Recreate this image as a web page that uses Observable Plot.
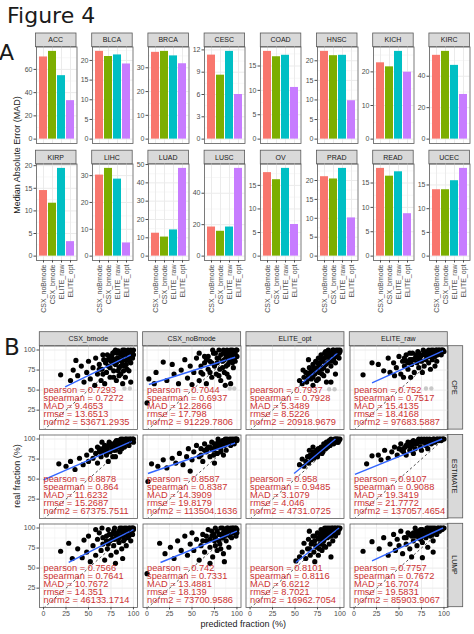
<!DOCTYPE html>
<html><head><meta charset="utf-8">
<script src="https://cdn.jsdelivr.net/npm/d3@7"></script>
<script src="https://cdn.jsdelivr.net/npm/@observablehq/plot@0.6"></script>
<style>
html,body{margin:0;padding:0;background:#fff;}
#fig{position:relative;width:474px;height:634px;overflow:hidden;background:#fff;}
.cell{position:absolute;}
.cell svg{display:block;overflow:visible;}
</style></head><body><div id="fig"></div>
<script>
const FONT = "'Liberation Sans', Arial, Helvetica, sans-serif";
const TITLEFONT = "'DejaVu Sans', sans-serif";

// ---------- Panel A data ----------
const cancers = ["ACC","BLCA","BRCA","CESC","COAD","HNSC","KICH","KIRC","KIRP","LIHC","LUAD","LUSC","OV","PRAD","READ","UCEC"];
const methodsA = ["CSX_noBmode","CSX_bmode","ELITE_raw","ELITE_opt"];
const colorsA = ["#F8766D","#7CAE00","#00BFC4","#C77CFF"];
const madNoBmode = [70.7,22.3,36.5,11.3,18.0,22.4,22.7,53.3,14.5,30.2,12.5,18.5,17.7,21.0,18.0,14.0];
const madBmode   = [75.5,21.0,36.9,8.6,16.9,21.3,21.5,55.8,11.7,32.7,10.4,15.8,16.2,20.4,16.4,14.0];
const madRaw     = [54.6,21.4,35.0,11.8,17.2,21.4,26.1,46.9,19.4,28.7,14.3,18.5,18.6,23.2,17.3,15.9];
const madOpt     = [33.1,19.1,31.7,6.0,10.6,9.8,19.9,28.4,3.2,4.9,47.9,55.8,6.7,10.1,8.7,18.5];
const yTicksA = [[0,20,40,60],[0,5,10,15,20],[0,10,20,30],[0,3,6,9,12],[0,5,10,15],[0,5,10,15,20],[0,10,20],[0,20,40],
                 [0,5,10,15,20],[0,10,20,30],[0,10,20,30,40,50],[0,20,40],[0,5,10,15],[0,5,10,15,20],[0,5,10,15],[0,5,10,15]];

// ---------- Panel B data ----------
const methodsB = ["CSX_bmode","CSX_noBmode","ELITE_opt","ELITE_raw"];
const datasetsB = ["CPE","ESTIMATE","LUMP"];
const xTicksB = [0,25,50,75,100];
const yTicksB = [25,50,75,100];
const pearsonB  = [[0.7293,0.7044,0.7937,0.752],[0.8878,0.8587,0.958,0.9107],[0.7566,0.742,0.8101,0.7757]];
const spearmanB = [[0.7272,0.6937,0.7928,0.7517],[0.864,0.8387,0.9485,0.9088],[0.7641,0.7331,0.8116,0.7672]];
const madB      = [[9.4653,12.2866,5.3489,15.4135],[11.6232,14.3909,3.1079,19.3419],[10.7672,13.4881,6.6212,16.7074]];
const rmseB     = [[13.6513,17.798,8.5226,18.4168],[15.2687,19.8179,4.046,21.7772],[14.351,18.139,8.7021,19.5831]];
const norm2B    = [[53671.2935,91229.7806,20918.9679,97683.5887],[67375.7511,113504.1636,4731.0725,137057.4654],[46133.1714,73700.9586,16962.7054,85903.9067]];
const annotX = 0;
const annotY = [50,40,30,20,10];

// fitted lm line end points [x1,y1,x2,y2]
const fitCPE      = [[24,54,97,94],[2,57,98,91],[58,59,97,96],[20,59,99,99]];
const fitESTIMATE = [[0,49,98,97],[1,57,98,95],[49,57,95,100],[1,56,98,100]];
const fitLUMP     = [[28,57,100,98],[15,57,100,96],[51,57,99,100],[20,59,99,100]];

// scatter points (predicted, real): sparse part and dense core
const cpeBmode = [[19,69],[30,62],[33,75],[36,87],[38,68],[42,80],[45,60],[48,72],[50,86],[52,64],[55,78],[57,56],[58,90],[60,70],[62,82],[64,62],[65,76],[67,88],[68,58],[70,72],[71,94],[72,80],[74,66],[75,86],[76,92],[78,74],[79,98],[80,82],[81,62],[82,90],[84,78],[85,96],[86,70],[87,86],[88,100],[89,92],[90,80],[91,66],[92,96],[93,88],[94,100],[95,74],[96,92],[97,84],[98,98],[99,90],[100,100],[97,60],[88,58],[83,99],[77,84],[73,92],[66,94]];
const cpeBmodeCore = [[62,76],[66,70],[69,84],[72,88],[74,78],[77,96],[79,88],[81,84],[83,74],[85,88],[86,94],[88,82],[90,96],[91,88],[92,82],[94,92],[95,96],[96,86],[97,100],[98,92],[99,96],[100,94],[93,76],[89,74],[84,68],[78,66],[80,100],[90,100],[86,80],[82,96]];
const cpeNoBmode = [[0,34],[2,64],[8,58],[10,72],[18,85],[22,62],[28,82],[30,70],[35,58],[38,75],[42,88],[45,65],[48,80],[50,57],[52,72],[55,90],[58,62],[60,80],[62,70],[64,92],[66,58],[68,76],[70,86],[72,66],[74,96],[75,80],[77,70],[78,90],[80,100],[81,76],[82,62],[84,86],[85,96],[86,72],[88,92],[89,100],[90,82],[91,66],[92,94],[94,88],[95,100],[96,78],[97,94],[98,86],[99,100],[100,92],[93,58],[87,56],[73,100],[66,88],[58,96]];
const cpeNoBmodeCore = [[60,72],[64,84],[68,92],[70,72],[72,84],[76,96],[78,84],[80,90],[82,94],[84,78],[86,88],[87,96],[88,80],[90,90],[91,96],[92,86],[93,100],[94,94],[96,98],[97,88],[98,96],[100,100],[85,100],[89,70],[80,68],[95,84]];
const cpeOpt = [[55,62],[58,58],[59,75],[60,66],[62,72],[63,60],[65,68],[66,78],[68,64],[69,74],[70,82],[72,70],[73,86],[74,62],[75,78],[76,90],[77,72],[78,84],[79,94],[80,76],[81,88],[82,68],[83,96],[84,82],[85,92],[86,74],[87,100],[88,86],[89,96],[90,80],[91,92],[92,100],[93,88],[94,98],[95,84],[96,100],[97,92],[98,98],[99,90],[100,100],[90,60],[85,60],[70,56],[65,88],[95,70]];
const cpeOptCore = [[64,64],[67,72],[70,66],[71,78],[73,74],[75,84],[77,80],[78,90],[80,86],[82,78],[83,90],[84,98],[86,84],[87,92],[88,94],[89,88],[90,96],[91,86],[92,94],[93,100],[94,92],[96,96],[97,98],[98,100],[99,96],[100,98],[80,70],[76,64]];
const cpeRaw = [[10,69],[20,84],[27,82],[33,74],[38,90],[40,72],[44,84],[47,78],[50,92],[52,70],[54,86],[56,80],[58,94],[60,76],[62,88],[64,82],[65,96],[67,72],[68,90],[70,84],[71,98],[72,78],[74,92],[75,86],[77,100],[78,80],[79,94],[80,88],[82,98],[83,84],[84,92],[86,100],[87,88],[88,96],[90,92],[91,100],[92,86],[94,96],[95,100],[97,94],[98,100],[100,98],[85,76],[76,72],[63,66],[90,80],[55,66],[45,68]];
const cpeRawCore = [[56,90],[60,84],[62,96],[66,88],[69,94],[72,96],[73,88],[76,94],[78,98],[80,96],[81,92],[83,100],[85,96],[86,92],[88,100],[89,94],[91,96],[92,100],[93,94],[94,100],[96,98],[97,100],[99,100],[70,90],[64,88],[58,86]];
const estBmode = [[17,69],[25,66],[30,72],[35,62],[40,76],[44,68],[48,80],[50,72],[53,86],[55,76],[58,82],[60,70],[62,88],[64,78],[66,84],[68,92],[70,80],[71,88],[73,96],[74,84],[76,90],[77,78],[78,94],[80,86],[81,98],[82,90],[84,94],[85,84],[86,100],[87,92],[88,96],[90,90],[91,100],[92,95],[94,98],[95,92],[96,100],[98,97],[100,100],[72,72],[80,78],[60,90],[65,96]];
const estBmodeCore = [[66,88],[69,86],[72,92],[75,94],[77,88],[79,92],[80,96],[82,94],[83,98],[84,90],[85,96],[86,92],[88,100],[89,94],[90,98],[92,100],[93,96],[94,100],[95,96],[97,100],[98,98],[99,100],[100,96],[87,88],[78,86],[70,84],[62,84]];
const estNoBmode = [[1,47],[5,69],[12,66],[18,74],[22,64],[28,76],[32,70],[36,82],[40,68],[44,78],[46,88],[50,74],[52,84],[55,92],[58,78],[60,88],[62,72],[64,94],[66,84],[68,90],[70,78],[72,96],[74,86],[76,92],[78,82],[79,100],[80,94],[82,88],[84,98],[86,92],[87,100],[88,86],[90,96],[92,100],[93,92],[95,98],[97,94],[98,100],[100,98],[75,70],[85,80],[48,60]];
const estNoBmodeCore = [[60,80],[64,86],[67,88],[70,90],[72,88],[75,94],[77,90],[79,96],[81,92],[83,96],[85,96],[86,98],[88,94],[89,100],[91,98],[92,96],[94,100],[96,100],[97,98],[99,100],[100,100],[82,84],[74,80]];
const estOpt = [[55,68],[58,75],[60,66],[62,72],[64,78],[65,70],[67,80],[68,74],[70,84],[71,76],[72,80],[74,86],[75,78],[76,88],[78,84],[79,90],[80,82],[81,88],[82,94],[84,88],[85,96],[86,90],[87,94],[88,98],[89,92],[90,100],[91,96],[92,98],[93,94],[94,100],[95,98],[96,100],[97,96],[98,100],[100,100],[70,90],[66,86]];
const estOptCore = [[69,78],[73,82],[77,86],[80,88],[83,92],[85,90],[86,94],[88,94],[89,96],[90,94],[91,98],[92,96],[93,98],[95,100],[97,100],[99,98],[98,96],[84,92],[81,84],[76,82]];
const estRaw = [[14,69],[20,79],[27,80],[34,86],[38,76],[42,84],[45,90],[48,80],[50,88],[52,94],[55,84],[57,90],[60,96],[62,86],[64,92],[66,98],[68,88],[70,94],[72,100],[74,90],[76,96],[78,100],[80,92],[82,98],[84,100],[86,94],[88,100],[90,96],[92,100],[94,98],[96,100],[98,100],[100,100],[58,80],[66,82],[75,86],[30,74],[82,88]];
const estRawCore = [[55,88],[58,92],[61,92],[64,96],[67,94],[69,96],[71,98],[73,96],[75,100],[77,98],[79,96],[81,100],[83,96],[85,98],[87,98],[89,100],[91,98],[93,100],[95,100],[97,98],[99,100],[63,90],[53,86]];
const lumpBmode = [[19,71],[28,81],[32,62],[38,74],[43,63],[45,85],[48,70],[50,90],[52,58],[55,78],[58,66],[60,86],[62,94],[64,72],[66,80],[68,60],[70,90],[71,74],[72,98],[74,84],[75,66],[76,92],[78,78],[79,100],[80,86],[81,70],[82,94],[84,82],[85,100],[86,90],[87,74],[88,96],[89,84],[90,100],[91,92],[92,78],[93,98],[94,88],[95,100],[96,94],[97,84],[98,100],[99,92],[100,98],[88,62],[80,56],[65,100],[58,98]];
const lumpBmodeCore = [[66,88],[70,84],[73,92],[76,86],[78,96],[80,92],[82,88],[84,96],[86,96],[87,100],[88,90],[89,92],[90,86],[91,96],[92,100],[93,92],[94,96],[95,90],[96,100],[97,96],[98,94],[99,100],[100,100],[84,88],[78,86],[72,80]];
const lumpNoBmode = [[0,43],[14,81],[20,68],[26,76],[30,62],[34,84],[38,72],[42,90],[45,66],[48,80],[50,94],[52,72],[55,86],[58,60],[60,78],[62,92],[64,70],[66,84],[68,98],[70,76],[72,90],[73,64],[75,84],[76,100],[78,72],[80,92],[81,80],[82,100],[84,88],[85,68],[86,96],[88,84],[89,100],[90,92],[91,76],[92,98],[94,88],[95,100],[96,94],[98,100],[99,90],[100,98],[70,56],[86,58]];
const lumpNoBmodeCore = [[62,84],[66,90],[70,86],[72,96],[74,92],[76,88],[78,96],[80,84],[82,92],[84,100],[85,94],[86,90],[88,96],[90,100],[91,94],[92,90],[93,100],[94,96],[96,100],[97,96],[99,100],[100,94],[82,74],[76,78]];
const lumpOpt = [[51,59],[55,64],[58,70],[60,81],[62,62],[64,74],[65,86],[67,66],[68,80],[70,90],[71,70],[72,84],[74,76],[75,94],[76,66],[77,86],[78,80],[79,98],[80,72],[81,90],[82,84],[83,100],[84,76],[85,94],[86,88],[87,100],[88,80],[89,96],[90,64],[90,90],[91,100],[92,84],[93,96],[94,100],[95,90],[96,98],[97,100],[98,94],[100,100],[66,96],[72,58]];
const lumpOptCore = [[66,74],[69,82],[72,90],[73,78],[76,88],[78,92],[80,86],[81,96],[82,92],[84,88],[85,100],[86,96],[87,92],[88,90],[89,100],[90,96],[91,94],[92,100],[93,92],[94,96],[95,100],[96,94],[97,96],[98,100],[99,98],[82,78],[77,74]];
const lumpRaw = [[10,71],[20,83],[28,74],[33,88],[38,66],[40,80],[44,92],[46,72],[48,86],[50,78],[52,96],[54,68],[56,88],[58,80],[60,94],[62,74],[64,90],[66,84],[68,100],[70,78],[71,92],[72,88],[74,98],[76,82],[76,63],[78,94],[80,88],[81,100],[82,76],[84,96],[85,90],[86,100],[88,84],[89,96],[90,100],[92,92],[93,100],[95,96],[96,100],[98,98],[100,100],[88,70],[64,64]];
const lumpRawCore = [[58,88],[62,92],[66,94],[69,96],[72,96],[74,92],[76,98],[78,90],[80,96],[82,100],[83,92],[84,100],[86,96],[87,92],[88,100],[90,96],[91,98],[93,96],[94,100],[96,98],[97,100],[99,100],[74,86],[68,90]];
const grayCPE = [[[90,52],[96,52]],[[92,52],[97,52]],[[88,51],[94,51]],[[80,52],[86,52]]];

// ---------- layout ----------
const fig = d3.select("#fig");
const ov = fig.append("svg").attr("width",474).attr("height",634)
  .style("position","absolute").style("left","0px").style("top","0px");

function txt(x,y,s,size,opts={}) {
  const t = ov.append("text").attr("x",x).attr("y",y).text(s)
    .attr("font-size",size).attr("font-family",opts.family||FONT).attr("fill",opts.fill||"#1A1A1A");
  if (opts.anchor) t.attr("text-anchor",opts.anchor);
  if (opts.transform) t.attr("transform",opts.transform).attr("x",0).attr("y",0);
  return t;
}
function strip(x,y,w,h,label,vertical){
  ov.append("rect").attr("x",x).attr("y",y).attr("width",w).attr("height",h)
    .attr("fill","#D9D9D9").attr("stroke","#5A5A5A").attr("stroke-width",0.8);
  if (vertical) txt(0,0,label,7,{anchor:"middle",transform:`translate(${x+w/2-2.5},${y+h/2}) rotate(90)`});
  else txt(x+w/2,y+h/2+2.5,label,7,{anchor:"middle"});
}
function place(svg,left,top){
  const d = document.createElement("div");
  d.className = "cell"; d.style.left = left+"px"; d.style.top = top+"px";
  d.appendChild(svg); document.getElementById("fig").appendChild(d);
}

txt(7,23,"Figure 4",22,{family:TITLEFONT});
txt(-1,60,"A",22,{family:TITLEFONT});
txt(4,355,"B",23,{family:TITLEFONT});
txt(0,0,"Median Absolute Error (MAD)",9,{anchor:"middle",transform:"translate(19.5,155) rotate(-90)"});
txt(0,0,"real fraction (%)",9,{anchor:"middle",transform:"translate(19.5,476) rotate(-90)"});
txt(243.3,627,"predicted fraction (%)",9,{anchor:"middle"});

// ---------- Panel A ----------
const PA_W = 40.5, PA_H = 96.5, PA_STRIP = 13.7;
const stripTopA = [33, 150.2];
cancers.forEach((name,k) => {
  const row = Math.floor(k/8), col = k%8;
  const left = 35.5 + col*56.2, stop = stripTopA[row], ptop = stop + PA_STRIP;
  strip(left, stop, PA_W, PA_STRIP, name, false);
  const vals = [madNoBmode[k], madBmode[k], madRaw[k], madOpt[k]];
  const rows = methodsA.map((m,i)=>({method:m, value:vals[i]}));
  const mx = d3.max(vals), lo = -0.05*mx, hi = 1.05*mx;
  const ticks = yTicksA[k], step = ticks[1]-ticks[0];
  const minor = [ticks[0]-step/2, ...ticks.map(t=>t+step/2)].filter(v=>v>lo && v<hi);
  const bottom = row === 1;
  const ML = 14, MT = 0.5, MR = 0.5, MB = bottom ? 58 : 0.5;
  const svg = Plot.plot({
    width: ML+PA_W+MR, height: MT+PA_H+MB,
    marginLeft: ML, marginRight: MR, marginTop: MT, marginBottom: MB,
    style: {background:"transparent", fontFamily: FONT, fontSize:"7px", color:"#4D4D4D", overflow:"visible"},
    x: {type:"band", domain: methodsA, paddingInner:0.1, paddingOuter:0.15, axis:null},
    y: {domain:[lo,hi], axis:null},
    color: {domain: methodsA, range: colorsA},
    marks: [
      Plot.ruleY(minor, {stroke:"#F2F2F2", strokeWidth:0.6}),
      Plot.ruleY(ticks, {stroke:"#EBEBEB", strokeWidth:1}),
      Plot.gridX({stroke:"#EBEBEB", strokeOpacity:1, strokeWidth:1}),
      Plot.barY(rows, {x:"method", y:"value", fill:"method"}),
      Plot.frame({stroke:"#5A5A5A", strokeWidth:0.8}),
      Plot.axisY(ticks, {tickSize:2.5, tickPadding:1.5, label:null}),
      ...(bottom ? [Plot.axisX({tickRotate:-90, tickSize:2.5, tickPadding:1.5, label:null})] : [])
    ]
  });
  place(svg, left-ML, ptop-MT);
});

// ---------- Panel B ----------
const PB_W = 98, PB_H = 83.4;
const scatterSets = [
  [cpeBmode.concat(cpeBmodeCore), cpeNoBmode.concat(cpeNoBmodeCore), cpeOpt.concat(cpeOptCore), cpeRaw.concat(cpeRawCore)],
  [estBmode.concat(estBmodeCore), estNoBmode.concat(estNoBmodeCore), estOpt.concat(estOptCore), estRaw.concat(estRawCore)],
  [lumpBmode.concat(lumpBmodeCore), lumpNoBmode.concat(lumpNoBmodeCore), lumpOpt.concat(lumpOptCore), lumpRaw.concat(lumpRawCore)]
];
const fits = [fitCPE, fitESTIMATE, fitLUMP];
const colLeftB = c => 39.3 + c*103.33;
const rowTopB = r => 345.7 + r*88.8;
methodsB.forEach((m,c)=> strip(colLeftB(c), 331.7, PB_W, 14, m, false));
datasetsB.forEach((d,r)=> strip(colLeftB(3)+PB_W, rowTopB(r), 15.4, PB_H, d, true));

const xMinorB = [12.5,37.5,62.5,87.5];
const yMinorB = [12.5,37.5,62.5,87.5];
datasetsB.forEach((ds,r) => methodsB.forEach((m,c) => {
  const pts = scatterSets[r][c];
  const gray = r === 0 ? grayCPE[c] : [];
  const fit = fits[r][c];
  const labels = [
    `pearson = ${pearsonB[r][c]}`, `spearman = ${spearmanB[r][c]}`, `MAD = ${madB[r][c]}`,
    `rmse = ${rmseB[r][c]}`, `norm2 = ${norm2B[r][c]}`
  ].map((t,i)=>({x:annotX, y:annotY[i], t}));
  const ML = c === 0 ? 18 : 0.5, MB = r === 2 ? 12 : 0.5, MT = 0.5, MR = 0.5;
  const svg = Plot.plot({
    width: ML+PB_W+MR, height: MT+PB_H+MB,
    marginLeft: ML, marginRight: MR, marginTop: MT, marginBottom: MB,
    style: {background:"transparent", fontFamily: FONT, fontSize:"7px", color:"#4D4D4D", overflow:"visible"},
    x: {domain:[-4.5,104.5], axis:null},
    y: {domain:[1,105], axis:null},
    marks: [
      Plot.ruleX(xMinorB, {stroke:"#F2F2F2", strokeWidth:0.6}),
      Plot.ruleY(yMinorB, {stroke:"#F2F2F2", strokeWidth:0.6}),
      Plot.ruleX(xTicksB, {stroke:"#EBEBEB", strokeWidth:1}),
      Plot.ruleY(yTicksB, {stroke:"#EBEBEB", strokeWidth:1}),
      Plot.dot(pts, {x:d=>d[0], y:d=>d[1], r:2.6, fill:"#000", stroke:"none"}),
      Plot.dot(gray, {x:d=>d[0], y:d=>d[1], r:2.2, fill:"#C8C8C8", stroke:"none"}),
      Plot.link([fit], {x1:d=>d[0], y1:d=>d[1], x2:d=>d[2], y2:d=>d[3], stroke:"#3366FF", strokeWidth:1.4}),
      Plot.link([[0,0,100,100]], {x1:d=>d[0], y1:d=>d[1], x2:d=>d[2], y2:d=>d[3], stroke:"#000", strokeWidth:0.7, strokeDasharray:"2.5,2.5", clip:true}),
      Plot.text(labels, {x:"x", y:"y", text:"t", textAnchor:"start", fill:"#CC3333", fontSize:9.3, fontFamily:FONT}),
      Plot.frame({stroke:"#5A5A5A", strokeWidth:0.8}),
      ...(c === 0 ? [Plot.axisY(yTicksB, {tickSize:2.5, tickPadding:1.5, label:null})] : []),
      ...(r === 2 ? [Plot.axisX(xTicksB, {tickSize:2.5, tickPadding:1.5, label:null})] : [])
    ]
  });
  place(svg, colLeftB(c)-ML, rowTopB(r)-MT);
}));
</script></body></html>
